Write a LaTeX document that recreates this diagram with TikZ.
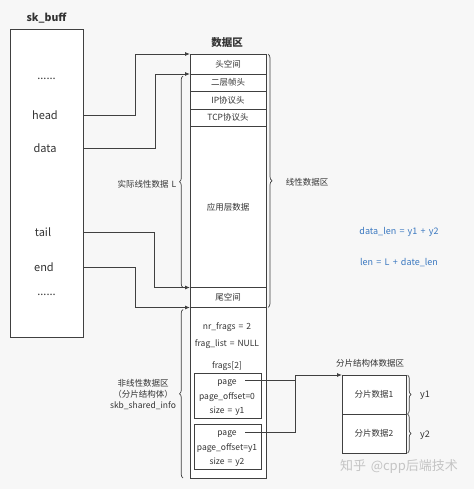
\documentclass[tikz,border=0pt]{standalone}
\usepackage{fontspec}
\setmainfont[WordSpace=1.6]{Noto Sans CJK SC}
\usetikzlibrary{arrows.meta,decorations.pathreplacing}
\definecolor{ln}{HTML}{404040}
\definecolor{bg}{HTML}{F7F7F7}
\definecolor{bl}{HTML}{3A78C0}
\definecolor{wm}{HTML}{C4C4C4}
\definecolor{tx}{HTML}{333333}
\begin{document}
\begin{tikzpicture}[x=1pt,y=-1pt,
 every node/.style={text=tx, font=\fontsize{8.5}{10}\selectfont},
 box/.style={draw=ln, line width=0.8pt, fill=white, rectangle, inner sep=0pt, outer sep=0pt},
 lab/.style={font=\fontsize{11}{12}\selectfont},
 ttl/.style={font=\bfseries\fontsize{10.5}{12}\selectfont},
 arr/.style={draw=ln, line width=0.8pt, -{Latex[length=5pt,width=4pt]}},
 con/.style={draw=ln, line width=0.8pt},
 brc/.style={draw=ln, line width=0.7pt, decorate, decoration={brace, amplitude=3.5pt}},
]
\fill[bg] (0,0) rectangle (474,489);
\useasboundingbox (0,0) rectangle (474,489);

% sk_buff
\node[box, minimum width=73pt, minimum height=308pt] (skb) at (46.5,183) {};
\node[ttl] (skbt) at (46.5,18) {sk\_buff};
\node[lab] (ld1) at (46.5,79) {......};
\node[lab] (lhead) at (45,115) {head};
\node[lab] (ldata) at (45,148) {data};
\node[lab] (ltail) at (43,232) {tail};
\node[lab] (lend) at (44,267) {end};
\node[lab] (ld2) at (46.5,295) {......};

% data area
\node[ttl] (dt) at (227,43) {数据区};
\node[box, minimum width=76pt, minimum height=20pt] (hs) at (228,64) {头空间};
\node[box, minimum width=76pt, minimum height=17.5pt] (l2) at (228,82.75) {二层帧头};
\node[box, minimum width=76pt, minimum height=17.5pt] (ip) at (228,100.25) {IP协议头};
\node[box, minimum width=76pt, minimum height=17.5pt] (tcp) at (228,117.75) {TCP协议头};
\node[box, minimum width=76pt, minimum height=161pt] (app) at (228,207) {应用层数据};
\node[box, minimum width=76pt, minimum height=20pt] (ts) at (228,297.5) {尾空间};
\node[box, minimum width=76pt, minimum height=170.5pt] (shi) at (228,392.75) {};

\node (nr) at (227,327) {nr\_frags = 2};
\node (fl) at (227,344) {frag\_list = NULL};
\node (fr) at (227,366) {frags[2]};
\node[box, minimum width=67pt, minimum height=45pt] (f1) at (227.5,395.5) {};
\node[box, minimum width=67pt, minimum height=45pt] (f2) at (227.5,446.5) {};
\node (fp1) at (227,383) {page};
\node (fo1) at (227,397.5) {page\_offset=0};
\node (fs1) at (227,411) {size = y1};
\node (fp2) at (227,434) {page};
\node (fo2) at (227,447.7) {page\_offset=y1};
\node (fs2) at (227,462) {size = y2};

% fragment data
\node (fdt) at (370,363) {分片结构体数据区};
\node[box, minimum width=64pt, minimum height=39pt] (fd1) at (374,394.5) {分片数据1};
\node[box, minimum width=64pt, minimum height=39pt] (fd2) at (374,433.5) {分片数据2};

% arrows
\draw[arr] (skb.east |- lhead) -| ([xshift=-55pt]hs.north west) -- (hs.north west);
\draw[arr] (skb.east |- ldata) -| ([xshift=-35pt]l2.north west) -- (l2.north west);
\draw[arr] (skb.east |- ltail) -| ([xshift=-36pt]app.south west) -- (app.south west);
\draw[arr] (skb.east |- lend) -| ([xshift=-55pt]ts.south west) -- (ts.south west);

\draw[arr] ([xshift=5pt,yshift=3pt]fp1.east) -| ([xshift=-47pt]fd1.north west) -- (fd1.north west);
\draw[con] ([xshift=5pt,yshift=1.5pt]fp2.east) -| ([xshift=-47pt]fd1.north west);

% braces
\draw[brc] ([xshift=-7pt]app.south west) -- ([xshift=-7pt,yshift=-2pt]l2.north west);
\node (ll) at (147,184) {实际线性数据 L};
\draw[brc, decoration={amplitude=4pt}] ([xshift=2pt]hs.north east) -- ([xshift=2pt]ts.south east);
\node (lin) at (307,182) {线性数据区};
\draw[brc] ([xshift=-7pt]shi.south west) -- ([xshift=-7pt,yshift=-2pt]shi.north west);
\node[align=center, font=\fontsize{8.5}{11}\selectfont] (nl) at (143,395) {非线性数据区\\（分片结构体）\\skb\_shared\_info};
\draw[brc] ([xshift=1.5pt]fd1.north east) -- ([xshift=1.5pt]fd1.south east);
\draw[brc] ([xshift=1.5pt]fd2.north east) -- ([xshift=1.5pt]fd2.south east);
\node[font=\fontsize{9}{10}\selectfont] (y1) at (425,395) {y1};
\node[font=\fontsize{9}{10}\selectfont] (y2) at (425,435) {y2};

% formulas
\node[text=bl, font=\fontsize{9}{10}\selectfont] (f1t) at (399,232) {data\_len = y1 + y2};
\node[text=bl, font=\fontsize{9}{10}\selectfont] (f2t) at (399,263) {len = L + date\_len};

% watermark
\node[text=wm, font=\fontsize{13}{14}\selectfont] (wmk) at (399,467) {知乎 @cpp后端技术};
\end{tikzpicture}
\end{document}
